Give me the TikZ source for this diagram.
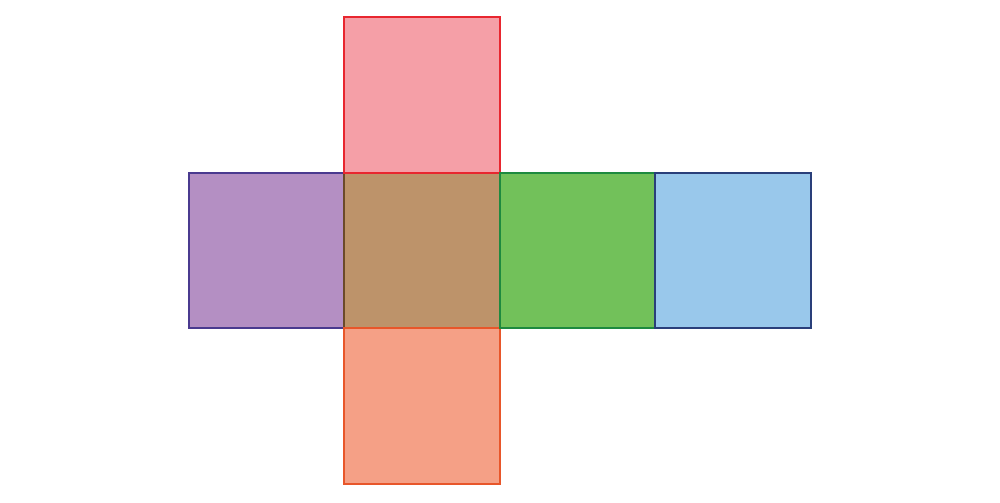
\documentclass[tikz,border=0pt]{standalone}
\usepackage{tikz}
\usetikzlibrary{positioning}
\definecolor{pinkfill}{HTML}{F59FA7}
\definecolor{pinkline}{HTML}{E8262F}
\definecolor{purplefill}{HTML}{B48FC3}
\definecolor{purpleline}{HTML}{4A3A8F}
\definecolor{brownfill}{HTML}{BD936A}
\definecolor{brownline}{HTML}{6B4A2A}
\definecolor{greenfill}{HTML}{72C15A}
\definecolor{greenline}{HTML}{1E8A3F}
\definecolor{bluefill}{HTML}{99C8EB}
\definecolor{blueline}{HTML}{2A3F7A}
\definecolor{salmonfill}{HTML}{F5A086}
\definecolor{salmonline}{HTML}{E8562A}
\tikzstyle{face}=[rectangle, minimum size=1.555cm, inner sep=0pt, outer sep=0pt, line width=0.6pt]
\tikzstyle{facepurple}=[face, fill=purplefill, draw=purpleline]
\tikzstyle{facebrown}=[face, fill=brownfill, draw=brownline]
\tikzstyle{facepink}=[face, fill=pinkfill, draw=pinkline]
\tikzstyle{facesalmon}=[face, fill=salmonfill, draw=salmonline]
\tikzstyle{facegreen}=[face, fill=greenfill, draw=greenline]
\tikzstyle{faceblue}=[face, fill=bluefill, draw=blueline]
\begin{document}
\begin{tikzpicture}
		   \useasboundingbox (0,0) rectangle (10,5.02);
		   \begin{scope}
			   \node (left) at (2.665, 2.515)[facepurple] {};
			   \node (front) [facebrown, right=0pt of left] {};
			   \node (top) [facepink, above=0pt of front] {};
			   \node (bottom) [facesalmon, below=0pt of front] {};
			   \node (right) [facegreen, right=0pt of front] {};
			   \node (back) [faceblue, right=0pt of right] {};
		   \end{scope}
	   \end{tikzpicture}
\end{document}
